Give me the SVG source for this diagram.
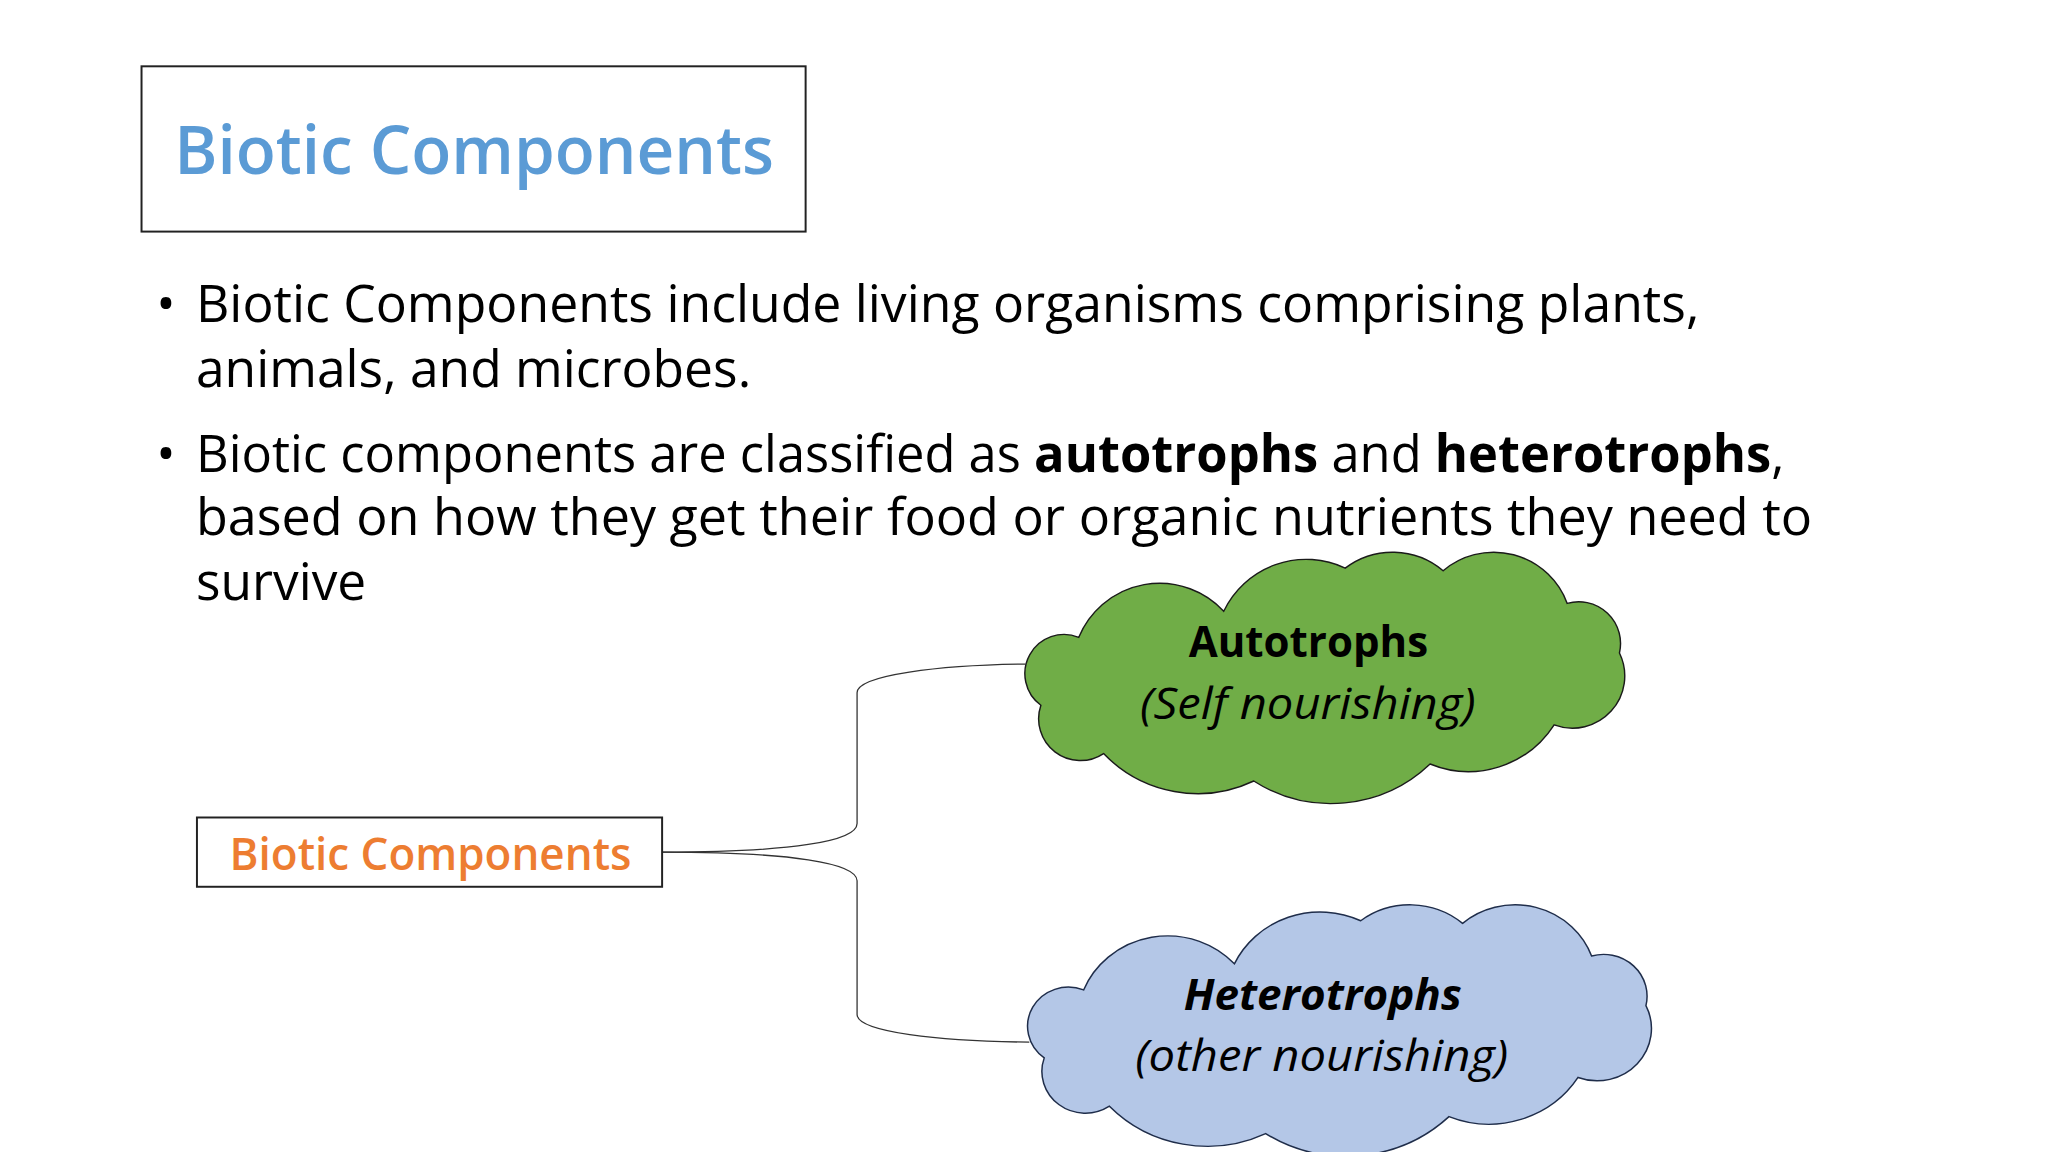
<svg xmlns="http://www.w3.org/2000/svg" width="2048" height="1152" viewBox="0 0 2048 1152">
<style>
.t{font-family:"Open Sans","Liberation Sans",sans-serif;fill:#000}
.b{font-size:52px}
.c{font-size:44px}
.conn{fill:none;stroke:#333;stroke-width:1.3}
.cl{stroke:#1a1a1a}
</style>
<defs>
<path id="cloud" d="M826,488 A67,67 0 0 1 937,468 A70,70 0 0 1 1030,435 A60,60 0 0 1 1105,437 A60,60 0 0 1 1200,462 A32,32 0 0 1 1240,500 A40,40 0 0 1 1190,555 A78,78 0 0 1 1095,585 A110,110 0 0 1 960,598 A100,100 0 0 1 845,577 A32,32 0 0 1 797,540 A30,30 0 0 1 826,488 Z"/>
</defs>
<rect width="2048" height="1152" fill="#fff"/>
<g transform="scale(0.9897)">
<g id="title">
<rect x="143" y="67" width="671" height="167" fill="none" stroke="#222" stroke-width="2"/>
<text class="t" x="176" y="176" font-size="68" font-weight="600" style="fill:#5B9BD5" textLength="606" lengthAdjust="spacingAndGlyphs">Biotic Components</text>
</g>
<g id="bullets">
<text class="t b" x="158" y="325">•</text>
<text class="t b" x="198" y="325" textLength="1519" lengthAdjust="spacingAndGlyphs">Biotic Components include living organisms comprising plants,</text>
<text class="t b" x="198" y="391" textLength="561" lengthAdjust="spacingAndGlyphs">animals, and microbes.</text>
<text class="t b" x="158" y="477">•</text>
<text class="t b" x="198" y="477" textLength="1605" lengthAdjust="spacingAndGlyphs">Biotic components are classified as <tspan font-weight="bold">autotrophs</tspan> and <tspan font-weight="bold">heterotrophs</tspan>,</text>
<text class="t b" x="198" y="541" textLength="1633" lengthAdjust="spacingAndGlyphs">based on how they get their food or organic nutrients they need to</text>
<text class="t b" x="198" y="606" textLength="172" lengthAdjust="spacingAndGlyphs">survive</text>
</g>
<g id="connectors">
<path class="conn" d="M669,861 C800,861 866,850 866,832 L866,700 C866,682 950,672 1036,671"/>
<path class="conn" d="M669,861 C800,861 866,872 866,890 L866,1025 C866,1043 950,1052 1040,1053"/>
</g>
<g id="root">
<rect x="199" y="826" width="470" height="70" fill="#fff" stroke="#222" stroke-width="2"/>
<text class="t" x="232" y="879" font-size="46" font-weight="600" style="fill:#ED7D31" textLength="406" lengthAdjust="spacingAndGlyphs">Biotic Components</text>
</g>
<g id="autotrophs">
<g transform="scale(1.3196)"><use href="#cloud" fill="#70AD47" class="cl" stroke-width="1.1"/></g>
<text class="t c" x="1201" y="664" font-weight="bold" textLength="242" lengthAdjust="spacingAndGlyphs">Autotrophs</text>
<text class="t c" x="1152" y="726" font-style="italic" textLength="339" lengthAdjust="spacingAndGlyphs">(Self nourishing)</text>
</g>
<g id="heterotrophs">
<g transform="scale(1.3196) translate(785,695) scale(1.04,1) translate(-783,-425)"><use href="#cloud" fill="#B4C7E7" stroke="#1f2d4a" stroke-width="1.1"/></g>
<text class="t c" x="1196" y="1021" font-weight="bold" font-style="italic" textLength="281" lengthAdjust="spacingAndGlyphs">Heterotrophs</text>
<text class="t c" x="1147" y="1082" font-style="italic" textLength="377" lengthAdjust="spacingAndGlyphs">(other nourishing)</text>
</g>
</g>
</svg>
